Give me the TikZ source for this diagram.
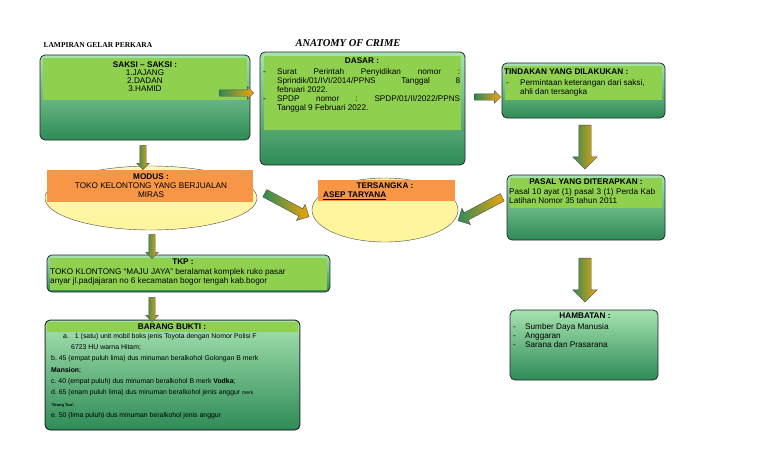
\documentclass[tikz,border=0pt]{standalone}
\usepackage{fontspec}
\setmainfont{Liberation Sans}
\newfontfamily\serifdoc{Liberation Serif}
\usetikzlibrary{shapes.geometric, shapes.arrows, calc}

\definecolor{leaf}{HTML}{8FD14F}
\definecolor{mint}{HTML}{A6E3B0}
\definecolor{deepgreen}{HTML}{2E8B57}
\definecolor{peach}{HTML}{F79646}
\definecolor{cream}{HTML}{FFF59D}
\definecolor{olive}{HTML}{6B8E23}
\definecolor{amber}{HTML}{F0A30A}

\tikzset{
  box/.style={draw=black!85, thick, rounded corners=5pt, top color=mint, bottom color=deepgreen},
  txt/.style={font=\fontsize{8.2}{9}\selectfont, align=left, inner sep=1pt},
  head/.style={font=\bfseries\fontsize{8.2}{9}\selectfont, inner sep=1pt},
  blockarrow/.style={shape=single arrow, draw=black!70, left color=deepgreen, right color=amber,
     single arrow head extend=3pt, inner sep=3pt, minimum height=#1},
  bigarrow/.style={shape=single arrow, draw=black!70, left color=deepgreen, right color=amber,
     single arrow head extend=6pt, inner sep=6pt, minimum height=#1},
}

\begin{document}
\begin{tikzpicture}[x=1pt,y=-1pt]
\useasboundingbox (0,0) rectangle (768,466);

% titles
\node[font=\serifdoc\bfseries\fontsize{7.5}{8}\selectfont, anchor=west] (lampiran) at (40,45) {LAMPIRAN GELAR PERKARA};
\node[font=\serifdoc\bfseries\itshape\fontsize{10.5}{11}\selectfont] (anatomy) at (348,43) {ANATOMY OF CRIME};

% saksi
\draw[box] (40,55) rectangle (250,140);
\fill[leaf] (43,58) rectangle (247,100);
\node[head, align=center] (saksi) at (145,77) {SAKSI -- SAKSI :\\[-1pt]\mdseries 1.JAJANG\\[-1pt]\mdseries 2.DADAN\\[-1pt]\mdseries 3.HAMID};

% dasar
\draw[box] (260,52) rectangle (465,165);
\fill[leaf] (264,56) rectangle (461,130);
\node[head] (dasar) at (362,61) {DASAR :};
\node[txt, text width=197pt, anchor=north west, align=justify] (dasartxt) at (262,67)
  {\makebox[14pt][l]{-}Surat\hfill Perintah\hfill Penyidikan\hfill nomor\hfill :\\ \hspace*{14pt}Sprindik/01/IVI/2014/PPNS\hfill Tanggal\hfill 8\\ \hspace*{14pt}februari 2022.\\
   \makebox[14pt][l]{-}SPDP\hfill nomor\hfill :\hfill SPDP/01/II/2022/PPNS\\ \hspace*{14pt}Tanggal 9 Februari 2022.};

% tindakan
\draw[box] (502,63) rectangle (665,118);
\fill[leaf] (505,66) rectangle (662,100);
\node[head, anchor=west] (tindakan) at (503,72) {TINDAKAN YANG DILAKUKAN :};
\node[txt, anchor=north west] (tindakantxt) at (505,78) {\makebox[14pt][l]{-}Permintaan keterangan dari saksi,\\\hspace*{14pt}ahli dan tersangka};

% modus
\draw[thin, top color=cream!70, bottom color=cream, draw=black!70] (151,198) ellipse (106 and 32);
\fill[peach] (47,170) rectangle (253,202);
\node[head, align=center] (modus) at (151,186) {MODUS :\\\mdseries TOKO KELONTONG YANG BERJUALAN\\\mdseries MIRAS};

% tersangka
\draw[thin, fill=cream, draw=black!70] (385,210) ellipse (73 and 32);
\fill[peach] (318,180) rectangle (455,201);
\node[head] (tersangka) at (385,186) {TERSANGKA :};
\node[head, anchor=west] (asep) at (322,196) {\underline{ASEP TARYANA}};

% pasal
\draw[box] (507,175) rectangle (665,240);
\fill[leaf] (510,178) rectangle (662,208);
\node[head] (pasal) at (586,182) {PASAL YANG DITERAPKAN :};
\node[txt, text width=146pt, align=justify, anchor=north west] (pasaltxt) at (508,187) {Pasal 10 ayat (1) pasal 3 (1) Perda Kab Latihan Nomor 35 tahun 2011};

% tkp
\draw[box] (47,255) rectangle (330,292);
\fill[leaf] (50,258) rectangle (327,290);
\node[head] (tkp) at (183,262) {TKP :};
\node[txt, anchor=north west] (tkptxt) at (49,267) {TOKO KLONTONG ``MAJU JAYA'' beralamat komplek ruko pasar\\anyar jl.padjajaran no 6 kecamatan bogor tengah kab.bogor};

% hambatan
\draw[box] (510,310) rectangle (658,380);
\node[head] (hambatan) at (585,316) {HAMBATAN :};
\node[txt, anchor=north west] (hambatantxt) at (512,322) {\makebox[12pt][l]{-}Sumber Daya Manusia\\\makebox[12pt][l]{-}Anggaran\\\makebox[12pt][l]{-}Sarana dan Prasarana};

% barang bukti
\begin{scope}
\clip[rounded corners=5pt] (45,320) rectangle (300,430);
\draw[box] (45,320) rectangle (300,430);
\fill[leaf] (47,322) rectangle (298,332);
\node[head] (bukti) at (172,327) {BARANG BUKTI :};
\node[txt, font=\fontsize{6.9}{11.3}\selectfont, anchor=north west] (buktitxt) at (50,332)
  {\hspace*{12pt}a.\hspace*{6pt}1 (satu) unit mobil boks jenis Toyota dengan Nomor Polisi F\\
   \hspace*{20pt}6723 HU warna Hitam;\\
   b.\ 45 (empat puluh lima) dus minuman beralkohol Golongan B merk\\
   \textbf{Mansion};\\
   c.\ 40 (empat puluh) dus minuman beralkohol B merk \textbf{Vodka};\\
   d.\ 65 (enam puluh lima) dus minuman beralkohol jenis anggur {\tiny merk}\\
   {\fontsize{4}{5}\selectfont\bfseries 'Orang Tua';}\\
   e.\ 50 (lima puluh) dus minuman beralkohol jenis anggur};
\end{scope}
\draw[draw=black!85, thick, rounded corners=5pt] (45,320) rectangle (300,430);

% arrows
\node[blockarrow=34pt] (a1) at (235,93) {};
\node[blockarrow=26pt] (a2) at (486,97) {};
\node[bigarrow=44pt, rotate=-90] (a3) at (585,144) {};
\node[bigarrow=44pt, rotate=-90] (a4) at (585,277) {};
\node[blockarrow=24pt, rotate=-90] (a5) at (143,156) {};
\node[blockarrow=24pt, rotate=-90] (a6) at (152,245) {};
\node[blockarrow=24pt, rotate=-90] (a7) at (152,308) {};
\node[blockarrow=50pt, inner sep=4pt, single arrow head extend=5pt, rotate=-28] (a8) at (285,204) {};
\node[blockarrow=50pt, inner sep=4pt, single arrow head extend=5pt, rotate=-152] (a9) at (482,208) {};
\end{tikzpicture}
\end{document}
